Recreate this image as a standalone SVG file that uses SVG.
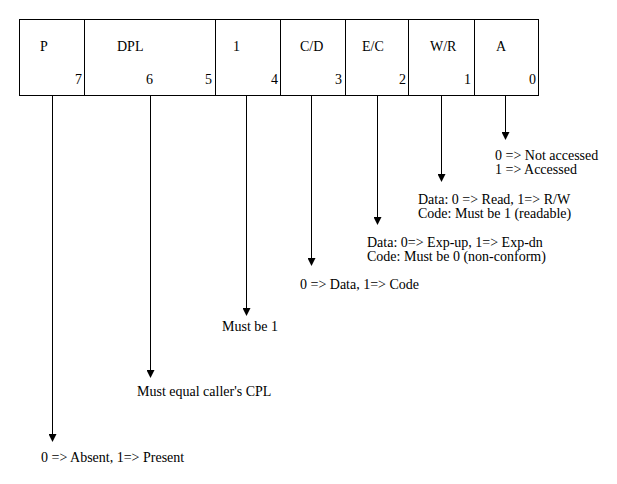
<svg xmlns="http://www.w3.org/2000/svg" width="617" height="484" viewBox="0 0 617 484">
<style>
text{font-family:"Liberation Serif",serif;font-size:14px;fill:#000}
.l{stroke:#000;stroke-width:1;fill:none}
</style>
<defs><marker id="a" markerWidth="8" markerHeight="8" refX="7" refY="4" orient="auto" markerUnits="userSpaceOnUse"><path d="M0,0L8,4L0,8z"/></marker></defs>
<rect width="617" height="484" fill="#fff"/>
<g id="register">
<rect class="l" x="19.5" y="19.5" width="519" height="76"/>
<path class="l" d="M84.5,19v77M215.5,19v77M280.5,19v77M345.5,19v77M408.5,19v77M474.5,19v77"/>
<text x="40" y="51">P</text><text x="117" y="51">DPL</text><text x="233" y="51">1</text>
<text x="300" y="51">C/D</text><text x="362" y="51">E/C</text><text x="430" y="51">W/R</text><text x="496" y="51">A</text>
<g text-anchor="end"><text x="82" y="84">7</text><text x="153" y="84">6</text><text x="212" y="84">5</text><text x="278" y="84">4</text><text x="342" y="84">3</text><text x="406" y="84">2</text><text x="471" y="84">1</text><text x="536" y="84">0</text></g>
</g>
<g id="connectors">
<path class="l" marker-end="url(#a)" d="M52.5,96V441"/>
<path class="l" marker-end="url(#a)" d="M150.5,96V377"/>
<path class="l" marker-end="url(#a)" d="M246.5,96V315"/>
<path class="l" marker-end="url(#a)" d="M311.5,96V265"/>
<path class="l" marker-end="url(#a)" d="M377.5,96V224"/>
<path class="l" marker-end="url(#a)" d="M441.5,96V181"/>
<path class="l" marker-end="url(#a)" d="M505.5,96V139"/>
</g>
<g id="labels">
<text x="495" y="160">0 =&gt; Not accessed</text><text x="495" y="174">1 =&gt; Accessed</text>
<text x="418" y="204">Data: 0 =&gt; Read, 1=&gt; R/W</text><text x="418" y="218">Code: Must be 1 (readable)</text>
<text x="367" y="247">Data: 0=&gt; Exp-up, 1=&gt; Exp-dn</text><text x="367" y="261">Code: Must be 0 (non-conform)</text>
<text x="300" y="289">0 =&gt; Data, 1=&gt; Code</text>
<text x="222" y="331">Must be 1</text>
<text x="137" y="396">Must equal caller's CPL</text>
<text x="41" y="462">0 =&gt; Absent, 1=&gt; Present</text>
</g>
</svg>
